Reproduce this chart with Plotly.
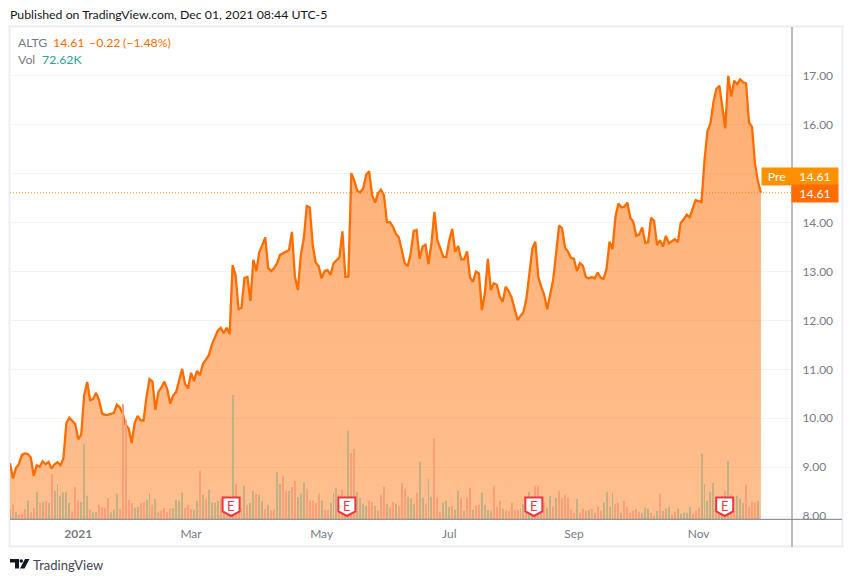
import plotly.graph_objects as go

# Daily closes, Dec 2020 - Nov 2021
price = [
    9.08, 8.77, 8.98, 9.06, 9.25, 9.28, 9.27, 9.20, 8.82, 9.04,
    9.01, 9.12, 9.06, 9.11, 8.97, 9.06, 9.10, 9.04, 9.18, 9.90,
    10.01, 9.94, 9.88, 9.57, 9.67, 10.47, 10.74, 10.37, 10.39, 10.52,
    10.37, 10.10, 10.07, 10.07, 10.09, 10.11, 10.28, 10.22, 10.10, 9.86,
    9.79, 9.49, 9.90, 10.05, 9.96, 9.95, 10.44, 10.80, 10.75, 10.17,
    10.54, 10.63, 10.75, 10.59, 10.30, 10.47, 10.54, 10.78, 11.01, 10.70,
    10.61, 10.93, 10.76, 10.97, 10.88, 11.11, 11.19, 11.29, 11.50, 11.63,
    11.79, 11.85, 11.74, 11.85, 11.72, 13.13, 12.93, 12.23, 12.26, 12.87,
    12.89, 12.40, 13.24, 13.01, 13.40, 13.54, 13.70, 13.07, 13.01, 13.07,
    13.17, 13.34, 13.37, 13.40, 13.44, 13.81, 12.89, 12.62, 13.34, 13.68,
    14.34, 14.31, 13.54, 13.18, 13.11, 12.86, 13.01, 13.03, 12.93, 13.17,
    13.22, 13.29, 13.82, 12.89, 12.90, 15.01, 14.86, 14.65, 14.62, 14.70,
    14.98, 15.05, 14.56, 14.41, 14.60, 14.67, 14.56, 14.01, 14.01, 13.92,
    13.77, 13.70, 13.44, 13.17, 13.11, 13.37, 13.83, 13.85, 13.26, 13.51,
    13.55, 13.15, 13.58, 14.22, 13.64, 13.47, 13.30, 13.30, 13.64, 13.87,
    13.40, 13.52, 13.25, 13.25, 13.41, 12.88, 12.79, 13.00, 12.96, 12.21,
    12.55, 13.26, 12.62, 12.76, 12.73, 12.49, 12.38, 12.69, 12.60, 12.47,
    12.25, 12.01, 12.09, 12.17, 12.45, 12.96, 13.47, 13.61, 12.89, 12.69,
    12.52, 12.23, 12.55, 12.83, 13.37, 13.94, 13.89, 13.49, 13.41, 13.28,
    13.26, 13.01, 13.17, 13.12, 12.89, 12.86, 12.89, 12.86, 12.98, 12.87,
    12.85, 13.06, 13.61, 13.46, 14.12, 14.39, 14.31, 14.33, 14.41, 14.10,
    14.02, 13.73, 13.76, 13.90, 13.59, 13.60, 14.10, 14.04, 13.54, 13.64,
    13.51, 13.73, 13.58, 13.62, 13.66, 13.60, 14.00, 14.07, 14.16, 14.11,
    14.27, 14.46, 14.44, 14.42, 15.28, 15.87, 16.03, 16.46, 16.73, 16.80,
    16.37, 15.93, 17.00, 16.58, 16.90, 16.83, 16.93, 16.87, 16.85, 16.05,
    15.96, 15.21, 14.84, 14.61,
]

# Volume in thousands, with the side of each bar (g up, r down)
volume = [
    37, 57, 28, 17, 21, 40, 73, 27, 45, 109,
    64, 69, 73, 64, 180, 113, 141, 93, 107, 108,
    64, 31, 128, 73, 68, 301, 93, 37, 27, 28,
    57, 48, 44, 84, 27, 37, 101, 40, 460, 396,
    77, 64, 45, 48, 64, 67, 77, 104, 57, 80,
    27, 33, 44, 27, 41, 44, 77, 73, 105, 44,
    57, 40, 37, 73, 193, 97, 81, 117, 65, 65,
    73, 80, 70, 60, 50, 496, 141, 77, 44, 133,
    57, 64, 113, 101, 97, 71, 40, 57, 35, 37,
    188, 141, 171, 113, 113, 128, 153, 88, 101, 147,
    121, 73, 73, 64, 101, 73, 37, 37, 64, 104,
    125, 97, 117, 90, 353, 264, 280, 108, 84, 61,
    53, 73, 68, 53, 35, 97, 129, 61, 47, 68,
    61, 53, 144, 121, 89, 81, 61, 105, 229, 85,
    61, 161, 89, 324, 85, 29, 65, 73, 49, 53,
    37, 113, 85, 33, 85, 125, 37, 53, 57, 105,
    57, 37, 33, 133, 49, 73, 41, 33, 33, 65,
    37, 37, 41, 60, 60, 109, 90, 133, 133, 91,
    64, 45, 93, 51, 84, 113, 85, 97, 85, 37,
    25, 81, 25, 41, 33, 37, 41, 25, 49, 33,
    65, 109, 49, 105, 61, 65, 25, 73, 49, 25,
    33, 41, 29, 25, 45, 41, 25, 13, 33, 101,
    33, 41, 49, 17, 29, 41, 21, 25, 25, 49,
    21, 33, 45, 261, 141, 73, 109, 145, 80, 70,
    90, 113, 233, 97, 31, 93, 81, 65, 137, 49,
    69, 65, 73,
]
volume_side = (
    "grgrrrgrrg" "rgrgrggggg" "grrrgggrgg" "rrrrgggrrr" "rrggrrggrg"
    "rrrrrggggr" "rrggrgrggg" "grgrggrrrg" "rggrggrgrr" "ggrrgrrggg"
    "rrrrrgrrgg" "grrggrrggg" "grrgrrrgrr" "grrrgggrgg" "rggrrrgggr"
    "ggrgrrgrrg" "gggrrrgrrr" "rrrgrggrrg" "rggrgrrrrr" "rgrrrgrgrr"
    "gggg" "rrgrrr" "rrrgggrrgr" "gggrrggggg" "rrrgggggrg" "grgrrggg" "rr" "rrg"
)

months = ["2021", "Mar", "May", "Jul", "Sep", "Nov"]
month_idx = [23, 61, 105, 148, 190, 232]
price_ticks = [8, 9, 10, 11, 12, 13, 14, 15, 16, 17]
# the 15.00 label sits behind the price boxes
price_tick_labels = ["8.00", "9.00", "10.00", "11.00", "12.00", "13.00", "14.00", "", "16.00", "17.00"]
earnings_idx = [74.5, 113.5, 176.5, 240.8]
last_price = 14.61

GRAY = "#787b86"
ORANGE = "#ff6d00"
AMBER = "#ff9100"
FONT = "Lato"
BAR_STEP = 2.968


# page pixels -> paper fractions of the plot box (10..792, 27..519)
def px_x(px):
    return (px - 10) / 782


def px_y(py):
    return (519 - py) / 492


fig = go.Figure()

fig.add_trace(go.Scatter(
    x=list(range(len(price))), y=price, mode="lines",
    line=dict(color=ORANGE, width=2.3),
    fill="tozeroy",
    fillgradient=dict(
        type="vertical", start=7.94, stop=17,
        colorscale=[[0, "rgba(255,109,0,0.44)"], [1, "rgba(255,109,0,0.55)"]],
    ),
    hoverinfo="skip", yaxis="y",
))
fig.add_trace(go.Bar(
    x=list(range(len(volume))), y=volume,
    marker=dict(color=["#c3b084" if s == "g" else "#fb9f78" for s in volume_side], line_width=0),
    width=0.33, hoverinfo="skip", yaxis="y2",
))

shapes = [
    # outer frame and the two axis lines
    dict(type="rect", xref="paper", yref="paper", x0=px_x(9.5), x1=px_x(842.5),
         y0=px_y(546.5), y1=px_y(26.5), line=dict(color="#ecedf3", width=2), layer="below"),
    dict(type="line", xref="paper", yref="paper", x0=px_x(792), x1=px_x(792),
         y0=px_y(547), y1=px_y(27), line=dict(color=GRAY, width=1)),
    dict(type="line", xref="paper", yref="paper", x0=px_x(10), x1=px_x(842),
         y0=px_y(519.3), y1=px_y(519.3), line=dict(color=GRAY, width=1)),
    # last price line
    dict(type="line", xref="paper", yref="y", x0=0, x1=1, y0=last_price, y1=last_price,
         line=dict(color="#f08a24", width=1, dash="1px,2px")),
]

# earnings flags
for idx in earnings_idx:
    shapes.append(dict(
        type="path", xref="x", yref="paper", xsizemode="pixel", ysizemode="pixel",
        xanchor=idx, yanchor=0,
        path="M -8.5 21.5 L 8.5 21.5 L 8.5 7.5 L 0 3 L -8.5 7.5 Z",
        fillcolor="white", line=dict(color="#f0353f", width=2),
    ))

# TradingView logo
shapes.append(dict(type="path", xref="paper", yref="paper", xsizemode="pixel", ysizemode="pixel",
                   xanchor=0, yanchor=0,
                   path="M 0 -40 L 9 -40 L 9 -49.5 L 5 -49.5 L 5 -43.5 L 0 -43.5 Z",
                   fillcolor="#131722", line_width=0))
shapes.append(dict(type="path", xref="paper", yref="paper", xsizemode="pixel", ysizemode="pixel",
                   xanchor=0, yanchor=0,
                   path="M 15 -40 L 19.5 -40 L 14.5 -49.5 L 10 -49.5 Z",
                   fillcolor="#131722", line_width=0))
shapes.append(dict(type="circle", xref="paper", yref="paper", xsizemode="pixel", ysizemode="pixel",
                   xanchor=0, yanchor=0, x0=9.5, x1=13, y0=-40.2, y1=-43.7,
                   fillcolor="#131722", line_width=0))


def label(text, px, py, color=GRAY, size=12.3, anchor="left", **kw):
    return dict(text=text, xref="paper", yref="paper", x=px_x(px), y=px_y(py),
                xanchor=anchor, yanchor="middle", showarrow=False,
                font=dict(family=FONT, size=size, color=color), **kw)


annotations = [
    label("Published on TradingView.com, Dec 01, 2021 08:44 UTC-5", 8, 15, color="#131722"),
    label("ALTG", 16, 42),
    label("14.61", 51, 42, color=ORANGE),
    label("\u22120.22", 87, 42, color=ORANGE),
    label("(\u22121.48%)", 121, 42, color=ORANGE),
    label("Vol", 16, 59),
    label("72.62K", 40, 59, color="#26a69a"),
    label("TradingView", 31, 564.5, color="#434651", size=13),
    label("Pre", 777, 176.5, color="white", anchor="center",
          bgcolor=AMBER, width=28, height=15),
    label(f"{last_price:.2f}", 815, 176.5, color="white", anchor="center",
          bgcolor=AMBER, width=44, height=15),
    label(f"{last_price:.2f}", 815, 193.5, color="white", anchor="center",
          bgcolor=ORANGE, width=44, height=15),
]
for idx in earnings_idx:
    annotations.append(dict(text="E", xref="x", yref="paper", x=idx, y=px_y(506),
                            xanchor="center", yanchor="middle", showarrow=False,
                            font=dict(family=FONT, size=13, color="#f0353f")))

fig.update_layout(
    width=852, height=582,
    margin=dict(l=10, r=60, t=27, b=63),
    paper_bgcolor="white", plot_bgcolor="white",
    showlegend=False,
    shapes=shapes, annotations=annotations,
    xaxis=dict(
        range=[0, 782 / BAR_STEP], tickmode="array", tickvals=month_idx,
        ticktext=["<b>2021</b>"] + months[1:],
        ticks="outside", ticklen=4, tickcolor="rgba(0,0,0,0)",
        tickfont=dict(family=FONT, size=12, color=GRAY),
        showgrid=False, zeroline=False, showline=False,
    ),
    yaxis=dict(
        range=[7.94, 18.0], side="right", tickmode="array", tickvals=price_ticks,
        ticktext=price_tick_labels, ticks="outside", ticklen=7, tickcolor="rgba(0,0,0,0)",
        tickfont=dict(family=FONT, size=12, color=GRAY),
        showgrid=True, gridcolor="#f1f3f8", gridwidth=1, zeroline=False, showline=False,
    ),
    yaxis2=dict(
        range=[0, 1968], overlaying="y", side="left", visible=False,
    ),
)

fig.write_html("out.html", config={"displayModeBar": False},
               post_script="document.body.style.margin='0';document.body.style.overflow='hidden';")
